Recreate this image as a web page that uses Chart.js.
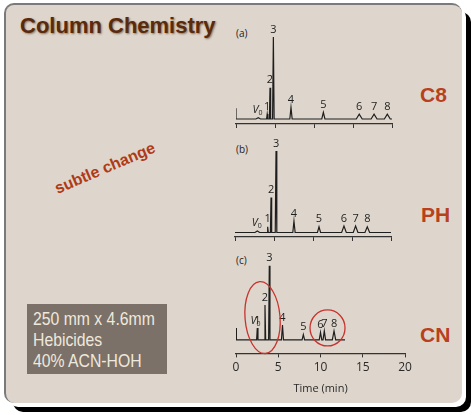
<!DOCTYPE html>
<html>
<head>
<meta charset="utf-8">
<script src="https://cdn.jsdelivr.net/npm/chart.js@4.4.0/dist/chart.umd.min.js"></script>
<style>
html, body { margin: 0; padding: 0; background: #fff; }
body { width: 474px; height: 415px; position: relative; overflow: hidden; font-family: "Liberation Sans", Arial, sans-serif; }
#slide {
    position: absolute; left: 4px; top: 3px; width: 456px; height: 398px;
    background: #ded6cc; border-top: 2px solid #7a7a7a; border-left: 2px solid #7a7a7a;
    border-radius: 10px; box-shadow: 4px 4px 0 #fff, 9px 9px 0 #000;
}
.abs { position: absolute; white-space: nowrap; }
#title { left: 20px; top: 13px; font-size: 22px; font-weight: bold; color: #5a2a0c; text-shadow: 1px 1px 2px rgba(70, 35, 10, 0.55); }
.phase { font-size: 21px; font-weight: bold; color: #b8401c; }
#subtle { left: 52px; top: 181px; font-size: 16px; font-weight: bold; color: #b03a18; transform: rotate(-23deg); transform-origin: left top; }
#info { left: 27px; top: 304px; width: 140px; height: 70px; background: #7b7168; }
#info div { position: absolute; left: 6px; font-family: "Liberation Sans", Arial, sans-serif; font-size: 19px; color: #efe8dc; line-height: 21px; transform: scaleX(0.83); transform-origin: left top; }
.tag { font-family: "Open Sans", sans-serif; font-size: 10px; color: #222; }
canvas { position: absolute; }
</style>
</head>
<body>
<div id="slide"></div>
<div class="abs" id="title">Column Chemistry</div>
<div class="abs phase" style="left:420px; top:83px;">C8</div>
<div class="abs phase" style="left:421px; top:203px;">PH</div>
<div class="abs phase" style="left:420px; top:323px;">CN</div>
<div class="abs" id="subtle">subtle change</div>
<div class="abs" id="info">
    <div style="top:4px;">250 mm x 4.6mm</div>
    <div style="top:25px;">Hebicides</div>
    <div style="top:46px;">40% ACN-HOH</div>
</div>
<div class="abs tag" style="left:236px; top:26px;">(a)</div>
<div class="abs tag" style="left:236px; top:142px;">(b)</div>
<div class="abs tag" style="left:236px; top:253px;">(c)</div>

<canvas id="chartA" width="180" height="110" style="left:226px; top:20px;"></canvas>
<canvas id="chartB" width="180" height="110" style="left:226px; top:135px;"></canvas>
<canvas id="chartC" width="190" height="150" style="left:226px; top:250px;"></canvas>

<script>
// (a) C8 column - retention time (min), relative height, half width (min), label
const timesA   = [0, 2.85, 4.0, 4.36, 4.79, 7.05, 11.2, 15.8, 17.7, 19.4];
const heightsA = [13, 1.5, 6, 38, 100, 14, 8, 6, 6, 6];
const widthsA  = [0, 0.3, 0.08, 0.08, 0.1, 0.15, 0.2, 0.38, 0.38, 0.38];
const namesA   = ['', '', '1', '2', '3', '4', '5', '6', '7', '8'];
const v0A = [2.75, 11];
const endA = 20;

// (b) phenyl column
const timesB   = [2.86, 4.19, 4.62, 5.26, 7.56, 10.77, 13.97, 15.46, 16.96];
const heightsB = [2, 7, 43, 100, 14, 7, 8, 8, 7];
const widthsB  = [0.3, 0.08, 0.08, 0.1, 0.15, 0.2, 0.3, 0.3, 0.3];
const namesB   = ['', '1', '2', '3', '4', '5', '6', '7', '8'];
const v0B = [2.8, 11.5];
const endB = 20;

// (c) cyano column
const timesC   = [0.05, 2.52, 3.43, 3.94, 5.5, 7.97, 10.0, 10.45, 11.6];
const heightsC = [16, 16, 47, 100, 20, 7, 10, 12, 12];
const widthsC  = [0, 0.08, 0.08, 0.08, 0.12, 0.15, 0.15, 0.15, 0.2];
const namesC   = ['', '1', '2', '3', '4', '5', '6', '7', '8'];
const v0C = [2.3, 25];
const endC = 12.9;
const ringsC = [[3.14, 30], [10.83, 16]];

const xTicks = [0, 5, 10, 15, 20];

function trace(times, heights, widths, end) {
    const pts = [{x: 0, y: 0}];
    times.forEach((t, i) => {
        pts.push({x: t - widths[i], y: 0}, {x: t, y: heights[i]}, {x: t + widths[i], y: 0});
    });
    pts.push({x: end, y: 0});
    return pts;
}

const peakLabels = {
    id: 'peakLabels',
    afterDatasetsDraw(chart, args, opts) {
        const {ctx, scales: {x, y}} = chart;
        ctx.save();
        ctx.fillStyle = '#1e1e1e';
        ctx.font = '11px "Open Sans", sans-serif';
        ctx.textAlign = 'center';
        ctx.textBaseline = 'bottom';
        opts.times.forEach((t, i) => {
            if (!opts.names[i]) return;
            ctx.fillText(opts.names[i], x.getPixelForValue(t), y.getPixelForValue(opts.heights[i]) - 2);
        });
        // void volume marker
        const vx = x.getPixelForValue(opts.v0[0]);
        const vy = y.getPixelForValue(opts.v0[1]);
        ctx.textBaseline = 'middle';
        ctx.textAlign = 'right';
        ctx.font = 'italic 11px "Open Sans", sans-serif';
        ctx.fillText('V', vx + 1, vy);
        ctx.textAlign = 'left';
        ctx.font = '7px "Open Sans", sans-serif';
        ctx.fillText('0', vx + 1, vy + 3);
        // red rings
        (opts.rings || []).forEach((r, i) => {
            const size = opts.ringSizes[i];
            ctx.beginPath();
            ctx.ellipse(x.getPixelForValue(r[0]), y.getPixelForValue(r[1]), size[0], size[1], size[2], 0, Math.PI * 2);
            ctx.strokeStyle = '#c8322c';
            ctx.lineWidth = 1.3;
            ctx.stroke();
        });
        ctx.restore();
    }
};

function makeChart(id, pts, yMin, yMax, padding, showLabels, labelOpts) {
    return new Chart(document.getElementById(id), {
        type: 'line',
        data: {
            datasets: [{
                data: pts,
                borderColor: '#1e1e1e',
                borderWidth: 1.2,
                pointRadius: 0,
                tension: 0,
                fill: false
            }]
        },
        options: {
            responsive: false,
            animation: false,
            devicePixelRatio: 1,
            layout: { padding: padding },
            scales: {
                x: {
                    type: 'linear',
                    min: 0, max: 20,
                    afterBuildTicks: axis => { axis.ticks = xTicks.map(v => ({value: v})); },
                    grid: { drawOnChartArea: false, drawTicks: true, tickLength: 4, color: '#333', lineWidth: 1 },
                    border: { display: true, color: '#333', width: 1.2 },
                    ticks: {
                        display: showLabels,
                        padding: 3,
                        color: '#2a2a2a',
                        font: { family: '"Open Sans", sans-serif', size: 12 }
                    },
                    title: {
                        display: showLabels,
                        text: 'Time (min)',
                        color: '#2a2a2a',
                        font: { family: '"Open Sans", sans-serif', size: 11 }
                    }
                },
                y: { display: false, min: yMin, max: yMax }
            },
            plugins: {
                legend: { display: false },
                tooltip: { enabled: false },
                peakLabels: labelOpts
            }
        },
        plugins: [peakLabels]
    });
}

makeChart('chartA', trace(timesA, heightsA, widthsA, endA), -6.1, 108.5,
    { left: 10, right: 14, top: 10, bottom: 2 }, false,
    { times: timesA, heights: heightsA, names: namesA, v0: v0A });

makeChart('chartB', trace(timesB, heightsB, widthsB, endB), -5.5, 107.4,
    { left: 9, right: 15, top: 10, bottom: 4 }, false,
    { times: timesB, heights: heightsB, names: namesB, v0: v0B });

makeChart('chartC', trace(timesC, heightsC, widthsC, endC), -18.4, 107.9,
    { left: 10, right: 11, top: 10, bottom: 1 }, true,
    { times: timesC, heights: heightsC, names: namesC, v0: v0C,
      rings: ringsC, ringSizes: [[17.5, 36, -0.08], [17.5, 18, 0]] });
</script>
</body>
</html>
